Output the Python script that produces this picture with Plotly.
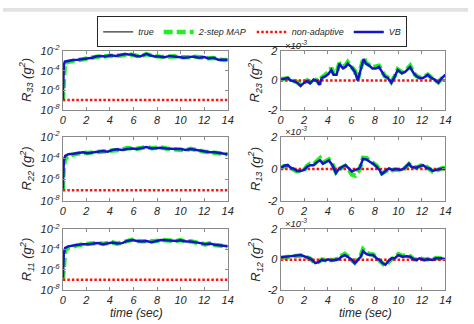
import plotly.graph_objects as go

# ---------------------------------------------------------------------------
# Noise covariance estimates (diagonal terms in g^2, off-diagonal in 1e-3 g^2)
# ---------------------------------------------------------------------------
X_TICKS = [0, 2, 4, 6, 8, 10, 12, 14]
LOG_TICKS = [1e-8, 1e-6, 1e-4, 1e-2]
LOG_TICK_TEXT = ["10<sup>-8</sup>", "10<sup>-6</sup>", "10<sup>-4</sup>", "10<sup>-2</sup>"]
LIN_TICKS = [-2, 0, 2]
LIN_TICK_TEXT = ["-2", "0", "2"]

NONADAPTIVE_DIAG = 1e-7   # fixed diagonal value used by the non-adaptive filter
NONADAPTIVE_OFF = 0.0     # fixed off-diagonal value
T_SPAN = [0, 14]

# R33
T33 = [0, 0.08, 0.17, 0.45, 0.86, 1.28, 1.7, 2.1, 2.5, 2.8, 3.2, 3.6, 4.05, 4.5, 4.9,
       5.3, 5.55, 5.85, 6.25, 6.55, 6.8, 7.1, 7.4, 7.8, 8.2, 8.65, 9.1, 9.5, 9.9,
       10.3, 10.75, 11.1, 11.55, 12.0, 12.4, 12.8, 13.2, 13.6, 14.0]
VB33 = [1.2e-7, 3.3e-4, 8.3e-4, 1.0e-3, 1.2e-3, 1.3e-3, 1.5e-3, 1.8e-3, 2.1e-3, 2.8e-3,
        3.2e-3, 2.8e-3, 3.7e-3, 3.2e-3, 3.7e-3, 5.1e-3, 4.4e-3, 4.4e-3, 3.2e-3, 2.8e-3,
        3.7e-3, 5.1e-3, 3.7e-3, 2.8e-3, 2.8e-3, 2.4e-3, 3.2e-3, 2.8e-3, 2.4e-3, 2.1e-3,
        2.4e-3, 2.8e-3, 2.1e-3, 2.4e-3, 1.8e-3, 2.1e-3, 1.3e-3, 1.3e-3, 1.3e-3]
MAP33 = [8e-8, 1.5e-4, 6e-4, 8e-4, 1.0e-3, 1.1e-3, 1.3e-3, 1.7e-3, 2.0e-3, 2.6e-3,
         3.0e-3, 2.9e-3, 3.5e-3, 3.4e-3, 3.5e-3, 4.8e-3, 4.6e-3, 4.2e-3, 3.3e-3, 2.9e-3,
         3.5e-3, 4.9e-3, 3.9e-3, 3.0e-3, 2.7e-3, 2.5e-3, 3.0e-3, 2.9e-3, 2.3e-3, 2.2e-3,
         2.3e-3, 2.7e-3, 2.2e-3, 2.3e-3, 1.9e-3, 2.0e-3, 1.4e-3, 1.2e-3, 1.2e-3]
TRUE33 = VB33

# R22 and R11 share one time grid
T_DIAG = [0, 0.08, 0.2, 0.47, 0.9, 1.3, 1.7, 2.1, 2.55, 3.0, 3.4, 3.8, 4.2, 4.6, 5.05,
          5.45, 5.9, 6.3, 6.7, 7.1, 7.55, 7.95, 8.35, 8.8, 9.2, 9.6, 10.0, 10.45, 10.85,
          11.3, 11.7, 12.1, 12.5, 12.9, 13.35, 14.0]
VB22 = [1.4e-7, 5.4e-5, 1.7e-4, 2.5e-4, 2.7e-4, 3.1e-4, 3.8e-4, 3.1e-4, 3.8e-4, 4.3e-4,
        5.0e-4, 4.3e-4, 6.2e-4, 7.1e-4, 6.2e-4, 7.7e-4, 8.7e-4, 7.7e-4, 1.0e-3, 1.15e-3,
        8.7e-4, 1.0e-3, 1.0e-3, 8.7e-4, 7.7e-4, 7.7e-4, 7.7e-4, 6.2e-4, 7.7e-4, 6.2e-4,
        5.0e-4, 4.3e-4, 3.8e-4, 3.8e-4, 3.1e-4, 2.5e-4]
MAP22 = [1.0e-7, 2.0e-5, 9e-5, 1.8e-4, 2.3e-4, 2.9e-4, 3.5e-4, 3.3e-4, 3.6e-4, 4.5e-4,
         4.8e-4, 4.6e-4, 5.8e-4, 6.8e-4, 6.6e-4, 9.5e-4, 8.4e-4, 8.0e-4, 9.6e-4, 1.2e-3,
         9.0e-4, 9.6e-4, 1.05e-3, 8.4e-4, 8.0e-4, 7.4e-4, 8.0e-4, 6.0e-4, 8.0e-4, 6.0e-4,
         5.2e-4, 4.1e-4, 3.9e-4, 3.6e-4, 3.2e-4, 2.4e-4]
TRUE22 = VB22

VB11 = [1.6e-7, 3.5e-5, 1.5e-4, 2.1e-4, 2.6e-4, 3.1e-4, 3.5e-4, 3.5e-4, 4.1e-4, 4.4e-4,
        3.5e-4, 4.4e-4, 5.1e-4, 4.1e-4, 4.4e-4, 7.3e-4, 9.1e-4, 7.3e-4, 6.4e-4, 7.3e-4,
        5.5e-4, 7.3e-4, 9.1e-4, 8.4e-4, 7.3e-4, 7.3e-4, 8.4e-4, 6.4e-4, 6.4e-4, 5.5e-4,
        4.4e-4, 3.5e-4, 4.1e-4, 3.1e-4, 2.6e-4, 2.1e-4]
MAP11 = [1.0e-7, 1.5e-5, 8e-5, 1.6e-4, 2.3e-4, 2.8e-4, 3.3e-4, 3.7e-4, 3.8e-4, 4.6e-4,
         3.7e-4, 4.2e-4, 5.4e-4, 3.9e-4, 4.6e-4, 6.9e-4, 9.6e-4, 7.0e-4, 6.7e-4, 7.0e-4,
         5.8e-4, 7.0e-4, 9.6e-4, 8.0e-4, 7.6e-4, 7.0e-4, 8.8e-4, 6.1e-4, 6.7e-4, 5.2e-4,
         4.6e-4, 3.3e-4, 4.3e-4, 2.9e-4, 2.5e-4, 1.9e-4]
TRUE11 = VB11

# R23 (x 1e-3)
T23 = [0, 0.3, 0.6, 0.86, 1.1, 1.4, 1.7, 2.0, 2.25, 2.5, 2.8, 3.1, 3.3, 3.5, 3.8, 4.05,
       4.3, 4.5, 4.75, 5.0, 5.3, 5.5, 5.7, 6.0, 6.3, 6.55, 6.8, 7.05, 7.25, 7.5, 7.8, 8.1,
       8.35, 8.6, 8.85, 9.1, 9.4, 9.7, 9.95, 10.3, 10.6, 11.0, 11.3, 11.55, 11.8, 12.1,
       12.5, 12.8, 13.1, 13.4, 13.7, 14.0]
VB23 = [0.06, 0.1, 0.17, 0, -0.04, -0.15, -0.37, -0.15, -0.04, -0.2, 0.06, -0.04, -0.3,
        0.17, 0.28, 0.43, 0.71, 0.39, 0.39, 1.14, 0.82, 0.92, 1.14, 0.92, 0.6, 0, 0.82,
        1.46, 1.14, 1.03, 0.82, 0.82, 0.92, 0.6, 0.28, 0.17, -0.15, 0.28, 0.71, 0.49, 0.6,
        0.92, 0.49, 0.28, 0.17, 0.17, 0.39, 0.17, 0.06, -0.15, 0.17, 0.39]
MAP23 = [0.08, 0.12, 0.15, 0.02, -0.02, -0.1, -0.3, -0.1, 0.0, -0.12, 0.1, 0.0, -0.25,
         0.2, 0.35, 0.55, 0.85, 0.5, 0.5, 1.2, 0.95, 1.0, 1.25, 1.0, 0.65, 0.05, 0.9,
         1.55, 1.2, 1.1, 0.9, 0.95, 1.0, 0.65, 0.3, 0.2, -0.1, 0.3, 0.75, 0.55, 0.65,
         1.0, 0.5, 0.3, 0.2, 0.22, 0.4, 0.2, 0.08, -0.12, 0.15, 0.35]
TRUE23 = VB23

# R13 (x 1e-3)
T13 = [0, 0.3, 0.6, 0.86, 1.1, 1.4, 1.7, 2.0, 2.25, 2.5, 2.8, 3.1, 3.35, 3.6, 3.85, 4.1,
       4.4, 4.7, 5.0, 5.25, 5.5, 5.8, 6.05, 6.35, 6.7, 7.0, 7.3, 7.6, 7.85, 8.15, 8.4,
       8.6, 8.9, 9.2, 9.5, 9.8, 10.2, 10.5, 10.9, 11.1, 11.5, 11.8, 12.1, 12.4, 12.7,
       12.9, 13.2, 13.5, 13.8, 14.0]
VB13 = [0.04, 0.2, 0.24, 0.08, 0, -0.12, -0.12, -0.06, 0.14, 0.24, 0.24, 0.44, 0.54,
        0.34, 0.44, 0.54, 0.24, -0.26, 0.04, 0.14, 0.24, 0.04, -0.16, -0.06, 0.04, 0.64,
        0.6, 0.44, 0.34, 0.14, -0.06, -0.32, -0.12, 0.04, -0.06, 0, -0.06, 0.04, 0.34,
        0.14, 0.08, 0.14, 0.24, 0.08, 0, -0.12, -0.06, 0, 0.04, 0]
MAP13 = [0.02, 0.18, 0.2, 0.05, -0.03, -0.15, -0.15, -0.08, 0.2, 0.32, 0.3, 0.55, 0.68,
         0.4, 0.5, 0.6, 0.3, -0.2, 0.0, 0.1, 0.2, -0.05, -0.35, -0.42, -0.05, 0.7, 0.68,
         0.5, 0.4, 0.2, 0.0, -0.28, -0.15, 0.0, -0.08, -0.03, -0.08, 0.02, 0.3, 0.16,
         0.1, 0.16, 0.3, 0.1, -0.05, -0.15, -0.1, -0.02, 0.06, 0.0]
TRUE13 = VB13

# R12 (x 1e-3)
T12 = [0, 0.45, 0.86, 1.3, 1.7, 2.1, 2.5, 2.95, 3.2, 3.5, 3.8, 4.05, 4.3, 4.6, 4.9,
       5.15, 5.45, 5.7, 6.0, 6.3, 6.55, 6.8, 7.0, 7.3, 7.6, 7.85, 8.15, 8.4, 8.65, 8.9,
       9.2, 9.45, 9.7, 10.0, 10.35, 10.7, 11.0, 11.3, 11.55, 11.8, 12.2, 12.5, 12.9,
       13.2, 13.6, 14.0]
VB12 = [0.15, 0.19, 0.19, 0.23, 0.3, 0.19, 0.09, -0.23, -0.17, -0.02, -0.06, 0.02, -0.06,
        -0.02, 0.02, 0.19, 0.3, 0.19, 0.02, -0.23, 0.02, 0.19, 0.57, 0.36, 0.3, 0.3, 0.09,
        -0.02, -0.23, -0.34, -0.06, 0.09, 0.09, 0.3, 0.19, 0.23, 0.19, 0.02, -0.02, 0.09,
        -0.02, 0.02, -0.02, 0.09, 0.09, 0.02]
MAP12 = [0.12, 0.17, 0.2, 0.25, 0.28, 0.2, 0.06, -0.2, -0.15, 0.0, -0.03, 0.05, -0.03,
         0.0, 0.06, 0.25, 0.38, 0.22, 0.05, -0.2, 0.05, 0.25, 0.68, 0.45, 0.36, 0.34,
         0.12, -0.08, -0.3, -0.42, -0.12, 0.06, 0.12, 0.36, 0.25, 0.3, 0.22, 0.04, 0.0,
         0.1, 0.0, 0.04, 0.0, 0.1, 0.08, 0.02]
TRUE12 = VB12

# ---------------------------------------------------------------------------
W, H = 474, 324
FONT = "Liberation Sans, Arial, sans-serif"
AX_COLOR = "#8a8a8a"
TXT_COLOR = "#262626"

COL_X = {"L": (61 / W, 229 / W), "R": (283 / W, 451 / W)}
ROW_Y = [(1 - 106.5 / H, 1 - 45 / H), (1 - 201.5 / H, 1 - 135 / H), (1 - 294.5 / H, 1 - 231.5 / H)]

# (axis index, column, row, label subscript, log?, t, true, map, vb)
PANELS = [
    (1, "L", 0, "33", True, T33, TRUE33, MAP33, VB33),
    (2, "R", 0, "23", False, T23, TRUE23, MAP23, VB23),
    (3, "L", 1, "22", True, T_DIAG, TRUE22, MAP22, VB22),
    (4, "R", 1, "13", False, T13, TRUE13, MAP13, VB13),
    (5, "L", 2, "11", True, T_DIAG, TRUE11, MAP11, VB11),
    (6, "R", 2, "12", False, T12, TRUE12, MAP12, VB12),
]

fig = go.Figure()
annotations = []
tick_font = dict(family=FONT, size=11, color=TXT_COLOR, style="italic")

for idx, col, row, sub, is_log, t, tru, mp, vb in PANELS:
    xa = "x" if idx == 1 else f"x{idx}"
    ya = "y" if idx == 1 else f"y{idx}"
    first = idx == 1
    const = NONADAPTIVE_DIAG if is_log else NONADAPTIVE_OFF

    fig.add_trace(go.Scatter(x=t, y=tru, xaxis=xa, yaxis=ya, mode="lines", name="true",
                             line=dict(color="black", width=1), showlegend=first,
                             legendrank=1))
    fig.add_trace(go.Scatter(x=t, y=mp, xaxis=xa, yaxis=ya, mode="lines", name="2-step MAP",
                             line=dict(color="#22ee22", width=4.5, dash="9px,4px"),
                             showlegend=first, legendrank=2))
    fig.add_trace(go.Scatter(x=T_SPAN, y=[const, const], xaxis=xa, yaxis=ya, mode="lines",
                             name="non-adaptive",
                             line=dict(color="#ff1010", width=2.5, dash="2.5px,2px"),
                             showlegend=first, legendrank=3))
    fig.add_trace(go.Scatter(x=t, y=vb, xaxis=xa, yaxis=ya, mode="lines", name="VB",
                             line=dict(color="#1414c8", width=2.5), showlegend=first,
                             legendrank=4))

    common = dict(showline=True, mirror="ticks", linecolor=AX_COLOR, linewidth=1,
                  ticks="inside", ticklen=3, tickcolor=AX_COLOR, showgrid=False,
                  zeroline=False, tickfont=tick_font)
    x_key = "xaxis" if idx == 1 else f"xaxis{idx}"
    y_key = "yaxis" if idx == 1 else f"yaxis{idx}"
    fig.layout[x_key] = dict(domain=COL_X[col], anchor=ya, range=[0, 14],
                             tickvals=X_TICKS, **common)
    if is_log:
        fig.layout[y_key] = dict(domain=ROW_Y[row], anchor=xa, type="log", range=[-8, -2],
                                 tickvals=LOG_TICKS, ticktext=LOG_TICK_TEXT, **common)
    else:
        fig.layout[y_key] = dict(domain=ROW_Y[row], anchor=xa, range=[-2, 2],
                                 tickvals=LIN_TICKS, ticktext=LIN_TICK_TEXT, **common)
        annotations.append(dict(xref="paper", yref="paper", x=COL_X[col][0] + 2 / W,
                                y=ROW_Y[row][1], xanchor="left", yanchor="bottom",
                                yshift=-2, text="×10<sup>-3</sup>", showarrow=False,
                                font=dict(family=FONT, size=9.5, color=TXT_COLOR,
                                          style="italic")))

    # y-axis label
    title_x = 24 / W if col == "L" else 257 / W
    annotations.append(dict(xref="paper", yref="paper", x=title_x,
                            y=sum(ROW_Y[row]) / 2, xanchor="center", yanchor="middle",
                            textangle=-90, showarrow=False,
                            text=f"R<sub>{sub}</sub> (g<sup>2</sup>)",
                            font=dict(family=FONT, size=13, color=TXT_COLOR,
                                      style="italic")))

# x-axis labels under the bottom row
for cx in (136 / W, 370 / W):
    annotations.append(dict(xref="paper", yref="paper", x=cx, y=1 - 319 / H,
                            xanchor="center", yanchor="middle", text="time (sec)",
                            showarrow=False,
                            font=dict(family=FONT, size=12, color=TXT_COLOR,
                                      style="italic")))

fig.update_layout(
    width=W, height=H,
    margin=dict(l=0, r=0, t=0, b=0),
    paper_bgcolor="white", plot_bgcolor="white",
    annotations=annotations,
    legend=dict(orientation="h", x=96 / W, y=1 - 25 / H, xanchor="left", yanchor="middle",
                bgcolor="white", bordercolor=TXT_COLOR, borderwidth=1,
                font=dict(family=FONT, size=9, color=TXT_COLOR, style="italic"),
                itemwidth=30, tracegroupgap=0),
    shapes=[dict(type="rect", xref="paper", yref="paper", x0=0, x1=1, y0=1 - 4 / H, y1=1,
                 fillcolor="#e2e2e2", line=dict(width=0), layer="below")],
)

fig.write_html("out.html")
